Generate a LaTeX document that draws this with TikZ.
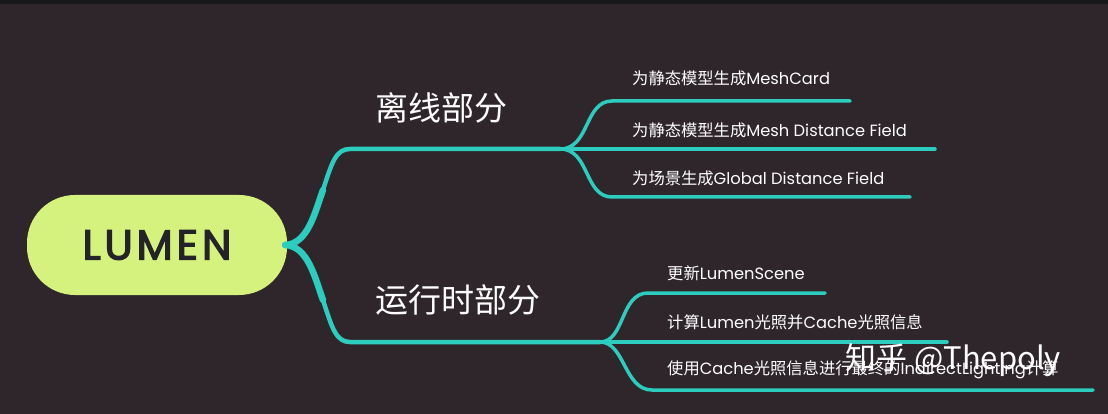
\documentclass[tikz,border=0pt]{standalone}
\usepackage{fontspec}
\setmainfont{Poppins}
\newfontfamily\cjk{Noto Sans CJK SC}
\usetikzlibrary{positioning}

\definecolor{bgdark}{RGB}{47,38,43}
\definecolor{branch}{RGB}{44,204,190}
\definecolor{rootfill}{RGB}{213,242,126}
\definecolor{roottext}{RGB}{37,35,42}

\begin{document}
\begin{tikzpicture}[x=1pt, y=-1pt,
  every node/.style={inner sep=0pt},
  topic/.style={font=\cjk\fontsize{33}{36}\selectfont, text=white, anchor=west},
  leaf/.style={font=\fontsize{16.3}{18}\selectfont, text=white, anchor=west},
  twig/.style={draw=branch, line width=3.5pt, line cap=round},
  limb/.style={draw=branch, line width=4.5pt, line cap=round},
  stem/.style={draw=branch, line width=6.5pt, line cap=round}]

    % background
    \fill[bgdark] (0,0) rectangle (1108,414);
    \fill[black!90] (0,0) rectangle (1108,4);
    \useasboundingbox (0,0) rectangle (1108,414);

    % Root
    \node[fill=rootfill, rounded corners=48pt, minimum width=260pt, minimum height=100pt,
          font=\addfontfeatures{FakeBold=3,LetterSpace=9}\fontsize{42}{46}\selectfont, text=roottext] (lumen) at (157,245) {LUMEN};

    % Topics
    \node[topic] (offline) at (375,108) {离线部分};
    \node[topic] (runtime) at (375,300) {运行时部分};

    % Offline leaves
    \node[leaf] (card) at (632,78) {{\cjk 为静态模型生成}MeshCard};
    \node[leaf] (mdf) at (632,130) {{\cjk 为静态模型生成}Mesh Distance Field};
    \node[leaf] (gdf) at (632,178) {{\cjk 为场景生成}Global Distance Field};

    % Runtime leaves
    \node[leaf] (scene) at (667,273) {{\cjk 更新}LumenScene};
    \node[leaf] (cache) at (667,322) {{\cjk 计算}Lumen{\cjk 光照并}Cache{\cjk 光照信息}};
    \node[leaf] (indirect) at (667,370) {{\cjk 使用}Cache{\cjk 光照信息进行最终的}IndirectLighting{\cjk 计算}};

    % branch points
    \coordinate (offmid) at (323,190);
    \coordinate (offknee) at (350,149);
    \coordinate (offhub) at (560,149);
    \coordinate (runmid) at (323,300);
    \coordinate (runknee) at (350,342);
    \coordinate (runhub) at (600,342);
    \coordinate (cardknee) at (612,101);
    \coordinate (cardend) at (850,101);
    \coordinate (mdfend) at (935,149);
    \coordinate (gdfknee) at (612,197);
    \coordinate (gdfend) at (910,197);
    \coordinate (sceneknee) at (648,293);
    \coordinate (sceneend) at (825,293);
    \coordinate (cacheend) at (947,342);
    \coordinate (indknee) at (652,390);
    \coordinate (indend) at (1093,390);

    % Limbs
    \draw[stem] ([xshift=-2pt]lumen.east) .. controls (308,244) and (315,212) .. (offmid);
    \draw[stem] ([xshift=-2pt]lumen.east) .. controls (308,246) and (315,278) .. (runmid);
    \draw[limb] ([xshift=-2pt]lumen.east) .. controls (308,244) and (315,212) .. (offmid)
        .. controls (332,162) and (336,149) .. (offknee) -- (offhub);
    \draw[limb] ([xshift=-2pt]lumen.east) .. controls (308,246) and (315,278) .. (runmid)
        .. controls (332,328) and (336,342) .. (runknee) -- (runhub);

    % Twigs
    \draw[twig] (offhub) .. controls +(30,0) and +(-28,0) .. (cardknee) -- (cardend);
    \draw[twig] (offhub) -- (mdfend);
    \draw[twig] (offhub) .. controls +(30,0) and +(-28,0) .. (gdfknee) -- (gdfend);
    \draw[twig] (runhub) .. controls +(25,0) and +(-28,0) .. (sceneknee) -- (sceneend);
    \draw[twig] (runhub) -- (cacheend);
    \draw[twig] (runhub) .. controls +(25,0) and +(-28,0) .. (indknee) -- (indend);

    % watermark
    \node[font=\cjk\fontsize{31}{34}\selectfont, text=white, anchor=west] (mark) at (845,360) {知乎 @Thepoly};
\end{tikzpicture}
\end{document}
